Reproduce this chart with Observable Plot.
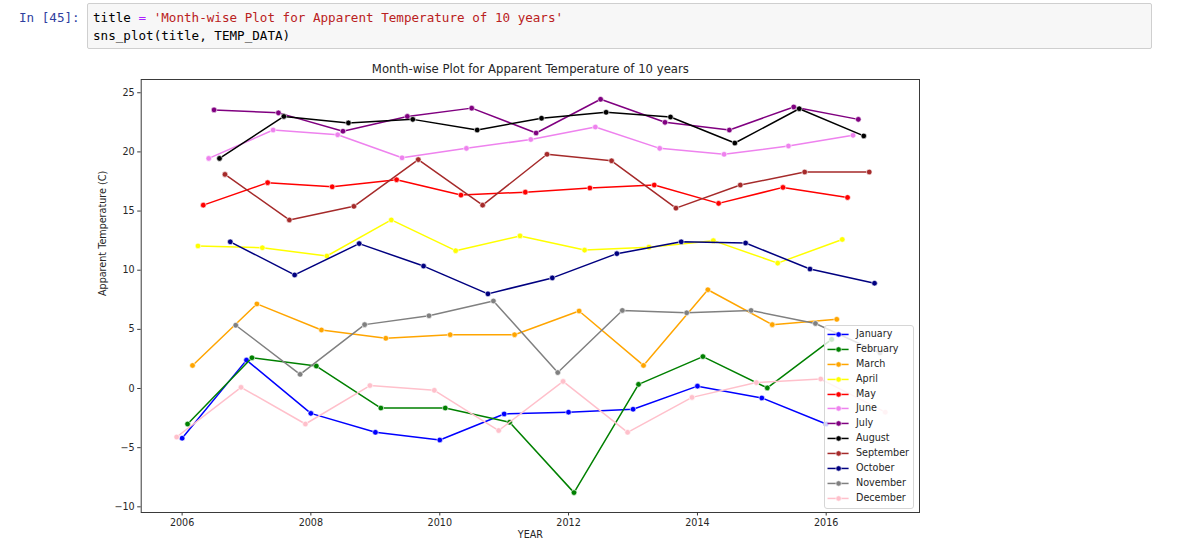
<!DOCTYPE html>
<html>
<head>
<meta charset="utf-8">
<script src="https://cdn.jsdelivr.net/npm/d3@7"></script>
<script src="https://cdn.jsdelivr.net/npm/@observablehq/plot@0.6"></script>
<style>
  html, body { margin: 0; padding: 0; background: #fff; }
  #wrap { position: relative; width: 1200px; height: 555px; overflow: hidden; }
  #chart { position: absolute; left: 0; top: 0; }
  .prompt { position: absolute; left: 19px; top: 10px; font-family: "DejaVu Sans Mono", monospace; font-size: 12.6px; color: #303F9F; white-space: pre; }
  .cell { position: absolute; left: 87px; top: 3px; width: 1063px; height: 44px; background: #f7f7f7; border: 1px solid #cfcfcf; border-radius: 2px; box-sizing: content-box; }
  .code { position: absolute; left: 93px; font-family: "DejaVu Sans Mono", monospace; font-size: 12.6px; color: #000; white-space: pre; }
  .str { color: #BA2121; }
  .op { color: #AA22FF; }
  #legend { position: absolute; left: 824px; top: 325px; width: 88px; height: 181px; background: rgba(255,255,255,0.8); border: 1px solid #d6d6d6; border-radius: 3px; font-family: "DejaVu Sans", sans-serif; font-size: 9.6px; color: #262626; padding-top: 1px; }
  .row { position: relative; height: 14.9px; }
  .row svg { position: absolute; left: 1.7px; top: 0; }
  .row span { position: absolute; left: 31px; top: 0; line-height: 14.9px; white-space: nowrap; }
</style>
</head>
<body>
<div id="wrap">
  <div id="chart"></div>
  <div class="cell"></div>
  <div class="prompt">In [45]:</div>
  <div class="code" style="top:10px">title <span class="op">=</span> <span class="str">'Month-wise Plot for Apparent Temperature of 10 years'</span></div>
  <div class="code" style="top:28px">sns_plot(title, TEMP_DATA)</div>
  <div id="legend"></div>
</div>
<script>
const months = ["January","February","March","April","May","June","July","August","September","October","November","December"];
const colors = ["blue","green","orange","yellow","red","violet","purple","black","brown","navy","gray","pink"];
const years = [2006,2007,2008,2009,2010,2011,2012,2013,2014,2015,2016];
const decYears = [2005,2006,2007,2008,2009,2010,2011,2012,2013,2014,2015,2016];

const january   = [-4.2, 2.4, -2.1, -3.7, -4.35, -2.15, -2.0, -1.75, 0.2, -0.8, -3.0];
const february  = [-3.0, 2.6, 1.9, -1.65, -1.65, -2.85, -8.8, 0.35, 2.7, 0.05, 4.15];
const march     = [1.95, 7.15, 4.95, 4.25, 4.55, 4.55, 6.55, 1.95, 8.35, 5.4, 5.85];
const april     = [12.05, 11.9, 11.2, 14.25, 11.65, 12.9, 11.7, 11.95, 12.5, 10.6, 12.6];
const may       = [15.5, 17.4, 17.05, 17.65, 16.35, 16.6, 16.95, 17.2, 15.65, 17.0, 16.15];
const june      = [19.45, 21.85, 21.45, 19.5, 20.3, 21.05, 22.1, 20.3, 19.8, 20.5, 21.4];
const july      = [23.55, 23.3, 21.75, 23.0, 23.7, 21.6, 24.45, 22.5, 21.85, 23.8, 22.75];
const august    = [19.45, 23.0, 22.45, 22.75, 21.85, 22.85, 23.35, 22.95, 20.75, 23.65, 21.35];
const september = [18.1, 14.25, 15.4, 19.35, 15.5, 19.8, 19.25, 15.25, 17.2, 18.3, 18.3];
const october   = [12.4, 9.6, 12.25, 10.35, 8.0, 9.35, 11.4, 12.4, 12.3, 10.1, 8.9];
const november  = [5.35, 1.2, 5.4, 6.15, 7.4, 1.35, 6.6, 6.4, 6.6, 5.5, 3.0];
const december  = [-4.1, 0.1, -3.0, 0.25, -0.15, -3.55, 0.6, -3.7, -0.75, 0.5, 0.8, -2.0];

const yTicks = [-10, -5, 0, 5, 10, 15, 20, 25];
const xTickYears = [2006, 2008, 2010, 2012, 2014, 2016];

const series = [january, february, march, april, may, june, july, august, september, october, november, december];

const rowsByMonth = series.map((vals, mi) => {
  const ys = mi === 11 ? decYears : years;
  return vals.map((v, i) => ({month: months[mi], date: new Date(Date.UTC(ys[i], mi, 1)), value: v}));
});

const marks = [];
rowsByMonth.forEach((rows, mi) => {
  marks.push(Plot.line(rows, {x: "date", y: "value", stroke: colors[mi], strokeWidth: 1.5}));
  marks.push(Plot.dot(rows, {x: "date", y: "value", fill: colors[mi], stroke: "white", strokeWidth: 0.6, r: 2.8}));
});

const plot = Plot.plot({
  width: 1200,
  height: 555,
  marginLeft: 140.7,
  marginRight: 281,
  marginTop: 79,
  marginBottom: 43,
  style: {fontFamily: "DejaVu Sans, sans-serif", fontSize: "9.6px", color: "#262626", background: "transparent", overflow: "visible"},
  x: {type: "utc", domain: [new Date(Date.UTC(2005, 4, 14)), new Date(Date.UTC(2017, 5, 13))]},
  y: {domain: [-10.48, 26.12]},
  marks: [
    ...marks,
    Plot.frame({stroke: "#3a3a3a", strokeWidth: 1}),
    Plot.axisX({ticks: xTickYears.map(y => new Date(Date.UTC(y, 0, 1))), tickFormat: d3.utcFormat("%Y"), tickSize: 3.5, tickPadding: 3, label: null, stroke: "#3a3a3a"}),
    Plot.axisY({ticks: yTicks, tickSize: 3.5, tickPadding: 3, label: null, stroke: "#3a3a3a"}),
    Plot.text(["Month-wise Plot for Apparent Temperature of 10 years"], {frameAnchor: "top", dy: -14.5, text: d => d, fontSize: 11.7, fill: "#262626"}),
    Plot.text(["YEAR"], {frameAnchor: "bottom", dy: 25, text: d => d, fontSize: 9.6, fill: "#262626"}),
    Plot.text(["Apparent Temperature (C)"], {frameAnchor: "left", dx: -38.5, rotate: -90, text: d => d, fontSize: 9.6, fill: "#262626"})
  ]
});
document.getElementById("chart").appendChild(plot);

// legend
const legend = document.getElementById("legend");
months.forEach((m, i) => {
  const row = document.createElement("div");
  row.className = "row";
  row.innerHTML = `<svg width="23" height="14.9"><line x1="0.5" x2="21.6" y1="7.45" y2="7.45" stroke="${colors[i]}" stroke-width="1.5"/><circle cx="11.6" cy="7.45" r="2.7" fill="${colors[i]}" stroke="white" stroke-width="0.6"/></svg><span>${m}</span>`;
  legend.appendChild(row);
});
</script>
</body>
</html>
